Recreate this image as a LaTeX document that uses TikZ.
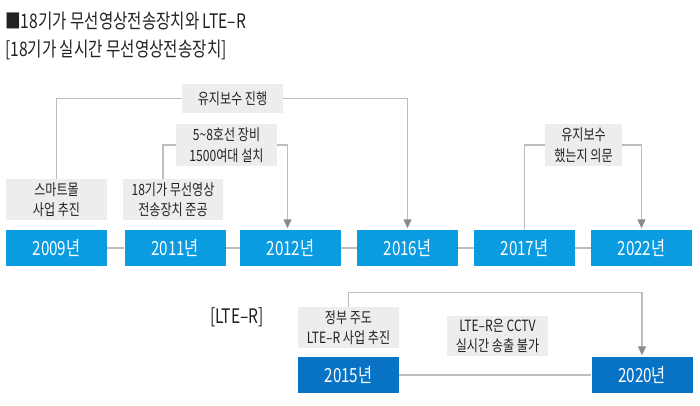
\documentclass[tikz,border=0pt]{standalone}
\usepackage{fontspec}
\setmainfont{Noto Sans CJK KR}[FakeStretch=0.78]
\usetikzlibrary{arrows.meta}
\definecolor{topblue}{HTML}{0A9BE0}
\definecolor{botblue}{HTML}{0872C4}
\definecolor{lblgray}{HTML}{EDEDED}
\definecolor{linegray}{HTML}{BDBDBD}
\definecolor{tipgray}{HTML}{8C8C8C}
\definecolor{txt}{HTML}{222222}
\tikzset{
  yeartop/.style={fill=topblue, text=white, minimum width=101pt, minimum height=36pt, inner sep=0pt, font=\fontsize{19.5}{21}\selectfont},
  yearbot/.style={yeartop, fill=botblue},
  lbl/.style={fill=lblgray, text=txt, minimum width=101pt, minimum height=41pt, inner sep=0pt, align=center, font=\fontsize{15.5}{20.5}\selectfont},
  conn/.style={draw=linegray, line width=1.1pt},
  arr/.style={conn, -{Triangle[width=8pt,length=9pt,color=tipgray]}, shorten >=1.5pt},
  ttl/.style={anchor=west, text=txt, inner sep=0pt, font=\fontsize{20}{22}\selectfont}
}
\begin{document}
\begin{tikzpicture}[x=1pt,y=-1pt]
\useasboundingbox (0,0) rectangle (700,405);
% titles
\node[ttl] (t1) at (5,21) {■18기가 무선영상전송장치와 LTE–R};
\node[ttl] (t2) at (5,50) {[18기가 실시간 무선영상전송장치]};
\node[ttl] (t3) at (210,317) {[LTE–R]};
% year boxes top
\node[yeartop] (y2009) at (56.5,248) {2009년};
\node[yeartop] (y2011) at (175,248) {2011년};
\node[yeartop] (y2012) at (290.5,248) {2012년};
\node[yeartop] (y2016) at (407.5,248) {2016년};
\node[yeartop] (y2017) at (524.5,248) {2017년};
\node[yeartop] (y2022) at (641.5,248) {2022년};
% labels
\node[lbl] (l2009) at (56.5,199.5) {스마트몰\\사업 추진};
\node[lbl, minimum width=100pt] (l2011) at (173,199.5) {18기가 무선영상\\전송장치 준공};
\node[lbl, minimum height=42pt] (l58) at (226.5,145) {5\textasciitilde8호선 장비\\1500여대 설치};
\node[lbl, minimum height=29pt] (lmaint) at (232.5,98.5) {유지보수 진행};
\node[lbl, minimum width=77pt, minimum height=42pt] (lq) at (583.5,145) {유지보수\\했는지 의문};
% bottom
\node[yearbot] (y2015) at (348.5,375) {2015년};
\node[yearbot] (y2020) at (642,375) {2020년};
\node[lbl] (llte) at (348.5,327.5) {정부 주도\\LTE–R 사업 추진};
\node[lbl, minimum height=40pt] (lcctv) at (497.5,336) {LTE–R은 CCTV\\실시간 송출 불가};
% connectors
\draw[conn] (y2009) -- (y2011);
\draw[conn] (y2011) -- (y2012);
\draw[conn] (y2012) -- (y2016);
\draw[conn] (y2016) -- (y2017);
\draw[conn] (y2017) -- (y2022);
\draw[conn] (y2015) -- (y2020);
\draw[conn] (l2009.north) |- (lmaint.west);
\draw[arr] (lmaint.east) -| (y2016.north);
\draw[conn] ([xshift=-10pt]l2011.north) |- (l58.west);
\draw[arr] (l58.east) -| ([xshift=-3pt]y2012.north);
\draw[conn] (y2017.north) |- (lq.west);
\draw[arr] (lq.east) -| (y2022.north);
\draw[arr] (llte.north) -- ++(0,-14) -| (y2020.north);
\end{tikzpicture}
\end{document}
